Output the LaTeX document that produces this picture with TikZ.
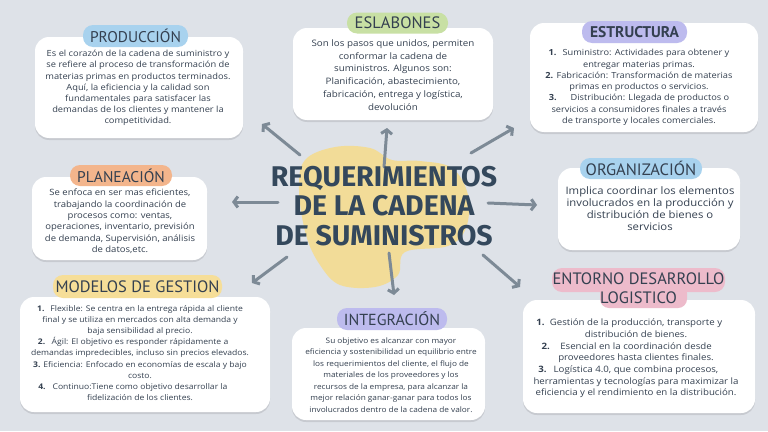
\documentclass[tikz,border=0pt]{standalone}
\usepackage{fontspec}
\setmainfont[FakeStretch=1.1]{Open Sans}
\newfontfamily\pillfont{PT Sans}
\newfontfamily\headfont{Fira Sans}
\usetikzlibrary{arrows.meta}
\usetikzlibrary{shadows}
\usetikzlibrary{math}

\definecolor{bgcol}{RGB}{222,226,232}
\definecolor{ink}{RGB}{52,64,80}
\definecolor{headink}{RGB}{52,72,92}
\definecolor{arrowgray}{RGB}{125,138,150}
\definecolor{blobcol}{RGB}{242,220,152}
\definecolor{pillblue}{RGB}{168,210,238}
\definecolor{pillgreen}{RGB}{200,224,164}
\definecolor{pilllav}{RGB}{189,187,238}
\definecolor{pillpeach}{RGB}{243,181,140}
\definecolor{pillyellow}{RGB}{246,222,152}
\definecolor{pillpink}{RGB}{237,187,203}

\newcommand{\NumLine}[3]{\makebox[#1]{\rlap{\bfseries #2}\hfil #3\hfil}}
\newcommand{\PillSize}[1]{\pillfont\fontsize{#1}{#1}\selectfont}

\tikzset{
    card/.style={fill=white, rounded corners=14pt,
        drop shadow={shadow xshift=0pt, shadow yshift=-2pt, opacity=0.10, fill=black}},
    pill/.style={fill=#1, rounded corners=10pt, inner sep=0pt, text=ink,
        font=\PillSize{15.5}},
    body/.style 2 args={inner sep=0pt, text=ink, align=center,
        font=\fontsize{#1}{#2}\selectfont},
    link/.style={draw=arrowgray, line width=3pt, line cap=round,
        -{Straight Barb[length=4pt,width=11pt]}},
}

\begin{document}
\begin{tikzpicture}[x=1pt, y=-1pt]

% Picture settings
\tikzmath{
    \PicW = 768;
    \PicH = 431;
}

\fill [bgcol] (0,0) rectangle (\PicW,\PicH);
\useasboundingbox (0,0) rectangle (\PicW,\PicH);

% Yellow blob behind the title
\fill [blobcol] plot [smooth cycle, tension=0.6] coordinates {
    (299,190) (305,160) (335,147) (370,148) (392,160) (420,161) (452,168)
    (468,195) (466,228) (448,246) (405,252) (398,275) (375,287) (340,285)
    (320,265) (306,235)};

% Arrow ends
\coordinate (A1S) at (300,155); \coordinate (A1E) at (262,124);
\coordinate (A2S) at (384,167); \coordinate (A2E) at (387,128);
\coordinate (A3S) at (471,153); \coordinate (A3E) at (514,128);
\coordinate (A4S) at (278,202); \coordinate (A4E) at (232,202);
\coordinate (A5S) at (488,203); \coordinate (A5E) at (537,205);
\coordinate (A6S) at (287,257); \coordinate (A6E) at (252,283);
\coordinate (A7S) at (389,253); \coordinate (A7E) at (394,295);
\coordinate (A8S) at (483,255); \coordinate (A8E) at (520,287);

\foreach \i in {1,...,8}
    \draw [link] (A\i S) -- (A\i E);

% Title
\node [text=headink, align=center, inner sep=0pt,
    font=\headfont\bfseries\fontsize{28.5}{29.5}\selectfont] (core) at (384,206)
    {REQUERIMIENTOS\\DE LA CADENA\\DE SUMINISTROS};

% Produccion
\node [card, minimum width=208pt, minimum height=101pt] (prodbox) at (139,87.5) {};
\node [body={8.45}{11.2}] (prodtext) at (138,88) {Es el corazón de la cadena de suministro y\\
    se refiere al proceso de transformación de\\
    materias primas en productos terminados.\\
    Aquí, la eficiencia y la calidad son\\
    fundamentales para satisfacer las\\
    demandas de los clientes y mantener la\\
    competitividad.};
\node [pill=pillblue, minimum width=105pt, minimum height=22pt] (prodtitle) at (135.5,36) {PRODUCCIÓN};

% Eslabones
\node [card, minimum width=200pt, minimum height=92pt] (eslabox) at (393,74) {};
\node [body={8.9}{12.8}] (eslatext) at (393,75) {Son los pasos que unidos, permiten\\
    conformar la cadena de\\
    suministros. Algunos son:\\
    Planificación, abastecimiento,\\
    fabricación, entrega y logística,\\
    devolución};
\node [pill=pillgreen, minimum width=101pt, minimum height=21pt, font=\PillSize{16.5}] (eslatitle) at (397.5,23) {ESLABONES};

% Estructura
\node [card, minimum width=228pt, minimum height=109pt] (estrbox) at (644,77.5) {};
\node [body={8.4}{11.3}] (estrtext) at (639,87.5) {\textbf{1.}\hspace{6pt}Suministro: Actividades para obtener y\\
    entregar materias primas.\\
    \textbf{2.} Fabricación: Transformación de materias\\
    primas en productos o servicios.\\
    \textbf{3.}\hspace{14pt}Distribución: Llegada de productos o\\
    servicios a consumidores finales a través\\
    de transporte y locales comerciales.};
\node [pill=pilllav, minimum width=105pt, minimum height=22pt] (estrtitle) at (634.5,32) {\bfseries ESTRUCTURA};

% Planeacion
\node [card, minimum width=175pt, minimum height=83pt] (planbox) at (119.5,218.5) {};
\node [body={8.65}{11.4}] (plantext) at (120,221.5) {Se enfoca en ser mas eficientes,\\
    trabajando la coordinación de\\
    procesos como: ventas,\\
    operaciones, inventario, previsión\\
    de demanda, Supervisión, análisis\\
    de datos,etc.};
\node [pill=pillpeach, minimum width=102pt, minimum height=21pt] (plantitle) at (121,175.5) {PLANEACIÓN};

% Organizacion
\node [card, minimum width=182pt, minimum height=82pt] (orgabox) at (649,209) {};
\node [body={10.3}{12}] (orgatext) at (650,208.5) {Implica coordinar los elementos\\
    involucrados en la producción y\\
    distribución de bienes o\\
    servicios};
\node [pill=pillblue, minimum width=122pt, minimum height=21pt, font=\PillSize{16.5}] (orgatitle) at (641,168.5) {ORGANIZACIÓN};

% Modelos de gestion
\node [card, minimum width=250pt, minimum height=115pt] (modebox) at (145,354.5) {};
\node [body={7.8}{11.1}] (modetext) at (140,353) {\textbf{1.}\hspace{6pt}Flexible: Se centra en la entrega rápida al cliente\\
    final y se utiliza en mercados con alta demanda y\\
    baja sensibilidad al precio.\\
    \NumLine{232pt}{2.}{Ágil: El objetivo es responder rápidamente a}\\
    demandas impredecibles, incluso sin precios elevados.\\
    \textbf{3.} Eficiencia: Enfocado en economías de escala y bajo\\
    costo.\\
    \NumLine{232pt}{4.}{Continuo:Tiene como objetivo desarrollar la}\\
    fidelización de los clientes.};
\node [pill=pillyellow, minimum width=169pt, minimum height=23pt, font=\PillSize{16.5}] (modetitle) at (137.5,286.5) {MODELOS DE GESTION};

% Integracion
\node [card, minimum width=193pt, minimum height=92pt] (intebox) at (388.5,374) {};
\node [body={7.5}{11.5}] (intetext) at (391,375) {Su objetivo es alcanzar con mayor\\
    eficiencia y sostenibilidad un equilibrio entre\\
    los requerimientos del cliente, el flujo de\\
    materiales de los proveedores y los\\
    recursos de la empresa, para alcanzar la\\
    mejor relación ganar-ganar para todos los\\
    involucrados dentro de la cadena de valor.};
\node [pill=pilllav, minimum width=110pt, minimum height=22pt, font=\PillSize{16}] (intetitle) at (392,319) {INTEGRACIÓN};

% Entorno desarrollo logistico
\node [card, minimum width=232pt, minimum height=113pt] (entobox) at (639,356.5) {};
\node [body={8.8}{11.7}] (entotext) at (636,358.5) {\NumLine{226pt}{1.}{Gestión de la producción, transporte y}\\
    distribución de bienes.\\
    \NumLine{226pt}{2.}{Esencial en la coordinación desde}\\
    proveedores hasta clientes finales.\\
    \NumLine{226pt}{3.}{Logística 4.0, que combina procesos,}\\
    herramientas y tecnologías para maximizar la\\
    eficiencia y el rendimiento en la distribución.};
\fill [pillpink, rounded corners=10pt] (552,268) rectangle (725,292);
\fill [pillpink, rounded corners=9pt] (600,284) rectangle (687,308);
\node [text=ink, align=center, inner sep=0pt,
    font=\pillfont\fontsize{16.5}{19}\selectfont] (entotitle) at (638.5,288.5) {ENTORNO DESARROLLO\\LOGISTICO};

\end{tikzpicture}
\end{document}
